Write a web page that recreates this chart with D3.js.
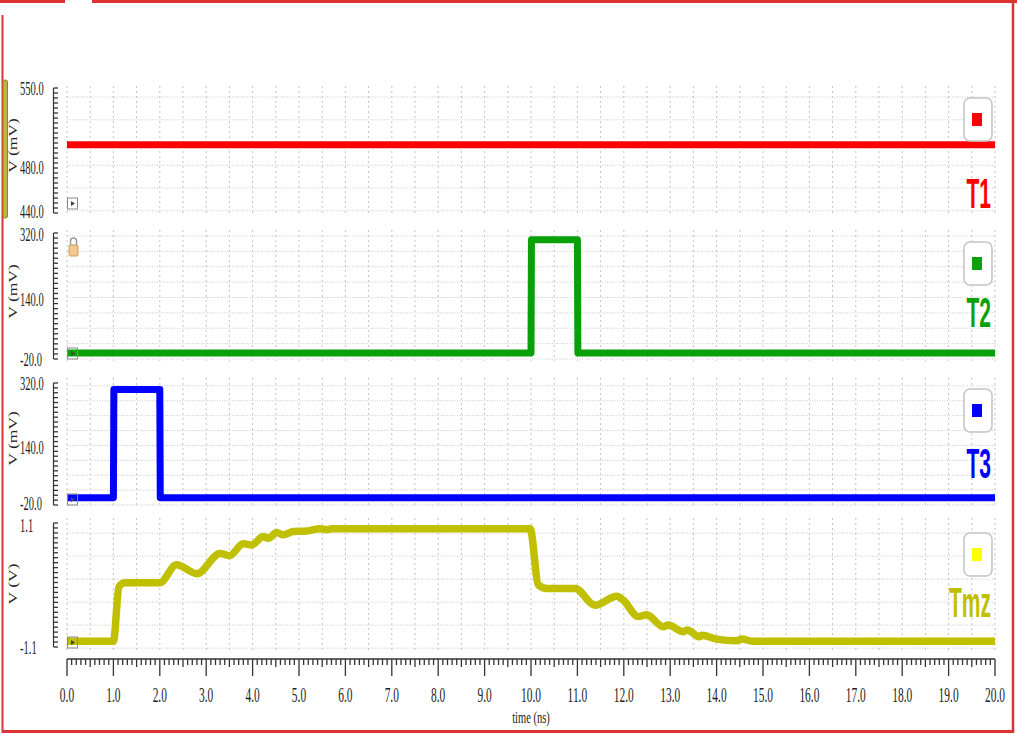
<!DOCTYPE html>
<html>
<head>
<meta charset="utf-8">
<script src="https://d3js.org/d3.v7.min.js"></script>
<style>
  body { margin:0; background:#fff; }
  text { font-family: "Liberation Serif", "DejaVu Serif", serif; }
</style>
</head>
<body>
<div id="my_dataviz"></div>
<script>
// ---- data ----
var names = ["T1", "T2", "T3", "Tmz"];
var colors = ["#ff0000", "#0aa00a", "#0000ff", "#c0c000"];
var swatch = ["#ff0000", "#0aa00a", "#0000ff", "#ffff00"];
var units = ["V (mV)", "V (mV)", "V (mV)", "V (V)"];
var yDomains = [[440, 550], [-20, 320], [-20, 320], [-1.1, 1.1]];
var yTickVals = [[550, 480, 440], [320, 140, -20], [320, 140, -20], [1.1, -1.1]];
var yTickText = [["550.0", "480.0", "440.0"], ["320.0", "140.0", "-20.0"], ["320.0", "140.0", "-20.0"], ["1.1", "-1.1"]];
var yGrid = [
  [442, 462, 482, 502, 522, 542],
  [312, 270.5, 229, 187.5, 146, 104.5, 63, 21.5, -20],
  [312, 270.5, 229, 187.5, 146, 104.5, 63, 21.5, -20],
  [0.92, 0.512, 0.104, -0.304, -0.712, -1.12]
];

var t1Time = [0, 20];
var t1Val = [500, 500];
var t2Time = [0, 10.0, 10.01, 11.0, 11.01, 20];
var t2Val = [-4, -4, 302, 302, -4, -4];
var t3Time = [0, 1.0, 1.01, 2.0, 2.01, 20];
var t3Val = [0, 0, 302, 302, 0, 0];
var tmzTime = [0, 1.0, 1.12, 1.25, 2.0, 2.36, 2.8, 3.3, 3.5, 3.8, 3.98, 4.23, 4.34, 4.52, 4.66, 4.88,
  5.17, 5.45, 5.6, 5.7, 9.98, 10.16, 10.34, 10.95, 11.38, 11.85, 11.99, 12.31, 12.49, 12.85,
  12.96, 13.28, 13.36, 13.64, 13.68, 14.0, 14.43, 14.54, 14.79, 20];
var tmzVal = [-1.0, -1.0, -0.03, 0.04, 0.04, 0.36, 0.2, 0.56, 0.52, 0.73, 0.71, 0.86, 0.83, 0.93, 0.89, 0.95,
  0.96, 1.0, 0.98, 1.0, 1.0, 0.0, -0.06, -0.06, -0.36, -0.2, -0.27, -0.56, -0.53, -0.74,
  -0.71, -0.83, -0.8, -0.92, -0.89, -0.96, -0.99, -0.96, -1.0, -1.0];

var xTicks = d3.range(0, 21);
var series = [[t1Time, t1Val], [t2Time, t2Val], [t3Time, t3Val], [tmzTime, tmzVal]];

// ---- layout ----
var W = 1017, H = 735;
var yRanges = [[213, 88], [359, 233], [505, 383], [647, 523]];
var panelSpan = [[86, 213], [230, 361], [378, 507], [518, 650]];
var legendTop = [98, 242, 389, 533];
var labelBase = [208, 327, 478, 617];
// small nudges so the stacked end labels do not collide
var labelNudge = [[0, 0, -1.5], [1.5, 0, 0], [0, 0, -2], [2, 0]];

var svg = d3.select("#my_dataviz").append("svg")
  .attr("width", W).attr("height", H);

var x = d3.scaleLinear().domain([0, 20]).range([67, 995]);

// frame
var frame = svg.append("g").attr("stroke", "#dc3434").attr("fill", "none");
frame.append("line").attr("x1", 0).attr("x2", 65).attr("y1", 1.5).attr("y2", 1.5).attr("stroke-width", 3);
frame.append("line").attr("x1", 92).attr("x2", W).attr("y1", 1.5).attr("y2", 1.5).attr("stroke-width", 3);
frame.append("line").attr("x1", 2.5).attr("x2", 2.5).attr("y1", 15).attr("y2", 733).attr("stroke-width", 2);
frame.append("line").attr("x1", 1013).attr("x2", 1013).attr("y1", 0).attr("y2", 733).attr("stroke-width", 2.5);
frame.append("line").attr("x1", 2).attr("x2", 1014).attr("y1", 731.5).attr("y2", 731.5).attr("stroke-width", 3);

// selected panel bar
svg.append("rect").attr("x", 3).attr("y", 80).attr("width", 4.5).attr("height", 138).attr("rx", 2)
  .attr("fill", "#bdb63c").attr("stroke", "#8c8622").attr("stroke-width", 1);

names.forEach(function(name, i) {
  var y = d3.scaleLinear().domain(yDomains[i]).range(yRanges[i]);
  var g = svg.append("g");

  // vertical grid every 0.5 ns
  g.selectAll(".vg").data(d3.range(0, 20.01, 0.5)).enter().append("line")
    .attr("x1", function(d) { return x(d); }).attr("x2", function(d) { return x(d); })
    .attr("y1", panelSpan[i][0]).attr("y2", panelSpan[i][1])
    .attr("stroke", "#c4c4c4").attr("stroke-width", 1).attr("stroke-dasharray", "2,3");

  // horizontal grid
  g.selectAll(".hg").data(yGrid[i]).enter().append("line")
    .attr("x1", x(0)).attr("x2", x(20) + 2)
    .attr("y1", function(d) { return y(d); }).attr("y2", function(d) { return y(d); })
    .attr("stroke", "#c8c8c8").attr("stroke-width", 1).attr("stroke-dasharray", "1,1.5");

  // ruler on the left
  var d0 = yDomains[i][0], d1 = yDomains[i][1];
  var rt = d3.range(26).map(function(k) { return d0 + k * (d1 - d0) / 25; });
  g.append("line").attr("x1", 53.5).attr("x2", 53.5)
    .attr("y1", y(d1)).attr("y2", y(d0)).attr("stroke", "#333").attr("stroke-width", 1.2);
  g.selectAll(".rt").data(rt).enter().append("line")
    .attr("x1", 53.5).attr("x2", 58)
    .attr("y1", function(d) { return y(d); }).attr("y2", function(d) { return y(d); })
    .attr("stroke", "#333").attr("stroke-width", 1.3);

  // y tick labels
  g.selectAll(".yl").data(yTickVals[i]).enter().append("text")
    .attr("transform", function(d, k) { return "translate(20," + (y(d) + labelNudge[i][k]) + ") scale(0.54,1)"; })
    .attr("dy", "0.34em").attr("font-size", 19.5).attr("fill", "#222")
    .text(function(d, k) { return yTickText[i][k]; });

  // unit label
  var mid = (panelSpan[i][0] + panelSpan[i][1]) / 2 + (i == 3 ? 0 : -4);
  g.append("text")
    .attr("transform", "translate(12," + mid + ") rotate(-90) scale(1,0.75)")
    .attr("text-anchor", "middle").attr("dy", "0.35em")
    .attr("font-size", 17.5).attr("fill", "#222")
    .text(units[i]);

  // signal
  var pts = series[i][0].map(function(t, k) { return [t, series[i][1][k]]; });
  var line = d3.line()
    .x(function(d) { return x(d[0]); })
    .y(function(d) { return y(d[1]); })
    .curve(i == 3 ? d3.curveMonotoneX : d3.curveLinear);
  g.append("path").datum(pts).attr("d", line)
    .attr("fill", "none").attr("stroke", colors[i]).attr("stroke-width", i == 3 ? 7.5 : 7)
    .attr("stroke-linejoin", "round");

  // small expand box
  var by = panelSpan[i][1] - 13 - (i == 0 ? 2 : 0);
  g.append("rect").attr("x", 67.5).attr("y", by).attr("width", 10).attr("height", 11)
    .attr("fill", i == 0 ? "#fff" : "none").attr("stroke", "#888").attr("stroke-width", 1);
  g.append("path").attr("d", "M71," + (by + 3) + "L75," + (by + 5.5) + "L71," + (by + 8) + "Z").attr("fill", "#444");

  // legend
  var lx = 964, ly = legendTop[i];
  g.append("rect").attr("x", lx).attr("y", ly).attr("width", 28).attr("height", 43).attr("rx", 6)
    .attr("fill", "#fff").attr("stroke", "#c4c4c4").attr("stroke-width", 1.5);
  g.append("rect").attr("x", lx + 8).attr("y", ly + 15).attr("width", 10).attr("height", 13)
    .attr("fill", swatch[i]);
  g.append("text")
    .attr("transform", "translate(991," + labelBase[i] + ") scale(0.5,1)")
    .attr("text-anchor", "end")
    .style("font-family", "'Liberation Sans', Arial, sans-serif")
    .attr("font-weight", "bold").attr("font-size", 42).attr("fill", colors[i])
    .text(name);
});

// lock icon in panel 2
var lock = svg.append("g");
lock.append("path").attr("d", "M70.5,246 V241 a3,3 0 0 1 6,0 V246").attr("fill", "none")
  .attr("stroke", "#9a9a9a").attr("stroke-width", 1.5);
lock.append("rect").attr("x", 69).attr("y", 245).attr("width", 9).attr("height", 11).attr("rx", 1.5)
  .attr("fill", "#f0c890").attr("stroke", "#c89a60").attr("stroke-width", 1);

// x axis
var xa = svg.append("g");
xa.append("line").attr("x1", x(0)).attr("x2", x(20)).attr("y1", 659).attr("y2", 659)
  .attr("stroke", "#333").attr("stroke-width", 1.5);
xa.selectAll(".mt").data(d3.range(0, 200.5).map(function(k) { return k / 10; })).enter().append("line")
  .attr("x1", function(d) { return x(d); }).attr("x2", function(d) { return x(d); })
  .attr("y1", 659)
  .attr("y2", function(d, k) { return k % 10 == 0 ? 676 : (k % 5 == 0 ? 667 : 665); })
  .attr("stroke", "#333").attr("stroke-width", 1.3);
xa.selectAll(".xl").data(xTicks).enter().append("text")
  .attr("transform", function(d) { return "translate(" + x(d) + ",702) scale(0.52,1)"; })
  .attr("text-anchor", "middle").attr("font-size", 22).attr("fill", "#222")
  .text(function(d) { return d.toFixed(1); });
svg.append("text")
  .attr("transform", "translate(531,723) scale(0.62,1)")
  .attr("text-anchor", "middle").attr("font-size", 17).attr("fill", "#222")
  .text("time (ns)");
</script>
</body>
</html>
